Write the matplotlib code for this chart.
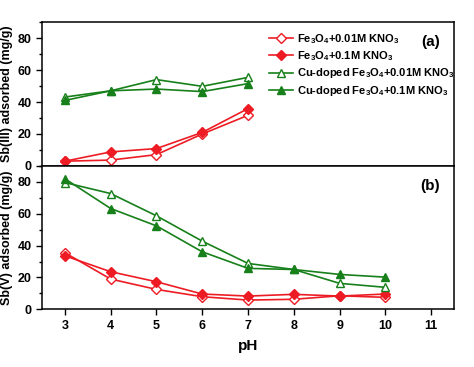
import matplotlib
matplotlib.use("Agg")
import matplotlib.pyplot as plt
from matplotlib.ticker import MultipleLocator

plt.rcParams['font.family'] = ['Liberation Sans', 'DejaVu Sans']
plt.rcParams['font.weight'] = 'bold'
plt.rcParams['mathtext.fontset'] = 'custom'
plt.rcParams['mathtext.rm'] = 'Liberation Sans:bold'
plt.rcParams['mathtext.bf'] = 'Liberation Sans:bold'
plt.rcParams['mathtext.it'] = 'Liberation Sans:bold:italic'
plt.rcParams['mathtext.default'] = 'bf'

ph_a = [3, 4, 5, 6, 7]
sb3_fe_001 = [3.0, 3.7, 7.1, 20.0, 31.7]
sb3_fe_01 = [3.0, 8.8, 10.9, 21.0, 35.9]
sb3_cu_001 = [43.1, 47.0, 54.0, 49.8, 55.4]
sb3_cu_01 = [41.0, 47.0, 48.1, 46.5, 51.5]

ph_b = [3, 4, 5, 6, 7, 8, 9, 10]
sb5_fe_001 = [35.5, 19.0, 12.5, 7.9, 5.8, 6.3, 8.5, 7.5]
sb5_fe_01 = [33.6, 23.6, 17.3, 9.6, 8.3, 9.4, 8.3, 9.6]
sb5_cu_001 = [79.6, 72.7, 58.7, 42.8, 28.8, 25.0, 16.3, 13.8]
sb5_cu_01 = [82.0, 63.3, 52.4, 36.1, 25.7, 25.0, 21.9, 20.2]

labels = [r'Fe$_3$O$_4$+0.01M KNO$_3$', r'Fe$_3$O$_4$+0.1M KNO$_3$',
          r'Cu-doped Fe$_3$O$_4$+0.01M KNO$_3$', r'Cu-doped Fe$_3$O$_4$+0.1M KNO$_3$']
xticks = [3, 4, 5, 6, 7, 8, 9, 10, 11]

red = '#ED1C24'
green = '#17801A'

fig = plt.figure(figsize=(4.74, 3.67), dpi=100)
L, R = 0.0886, 0.958
ax1 = fig.add_axes([L, 0.5477, R - L, 0.940 - 0.5477])
ax2 = fig.add_axes([L, 0.1572, R - L, 0.5477 - 0.1572])

def styles():
    return [
        dict(color=red, marker='D', mfc='white', mec=red, ms=5),
        dict(color=red, marker='D', mfc=red, mec=red, ms=5),
        dict(color=green, marker='^', mfc='white', mec=green, ms=6),
        dict(color=green, marker='^', mfc=green, mec=green, ms=6),
    ]

for ys, st, lab in zip([sb3_fe_001, sb3_fe_01, sb3_cu_001, sb3_cu_01], styles(), labels):
    ax1.plot(ph_a, ys, lw=1.2, label=lab, **st)
for ys, st in zip([sb5_fe_001, sb5_fe_01, sb5_cu_001, sb5_cu_01], styles()):
    ax2.plot(ph_b, ys, lw=1.2, **st)

for ax in (ax1, ax2):
    ax.set_xlim(2.5, 11.5)
    ax.set_ylim(0, 90)
    ax.set_xticks(xticks)
    ax.yaxis.set_major_locator(MultipleLocator(20))
    ax.yaxis.set_minor_locator(MultipleLocator(10))
    ax.tick_params(axis='both', which='major', direction='out', length=4, width=1, labelsize=9)
    ax.tick_params(axis='y', which='minor', direction='out', length=2.5, width=1)
    for s in ax.spines.values():
        s.set_linewidth(1.1)
    for t in ax.get_xticklabels() + ax.get_yticklabels():
        t.set_fontweight('bold')

ax1.tick_params(axis='x', labelbottom=False)
ax1.set_ylabel('Sb(III) adsorbed (mg/g)', fontsize=9, fontweight='bold', labelpad=3)
ax2.set_ylabel('Sb(V) adsorbed (mg/g)', fontsize=9, fontweight='bold', labelpad=3)
ax2.set_xlabel('pH', fontsize=11, fontweight='bold', labelpad=5)

ax1.text(0.965, 0.86, '(a)', transform=ax1.transAxes, ha='right', va='center', fontsize=11, fontweight='bold')
ax2.text(0.965, 0.86, '(b)', transform=ax2.transAxes, ha='right', va='center', fontsize=11, fontweight='bold')

leg = ax1.legend(loc='upper left', bbox_to_anchor=(0.54, 0.96), frameon=False, fontsize=8,
                 handlelength=2.2, handletextpad=0.3, labelspacing=0.3, borderaxespad=0)
for t in leg.get_texts():
    t.set_fontweight('bold')

fig.savefig('out.png', dpi=100)
